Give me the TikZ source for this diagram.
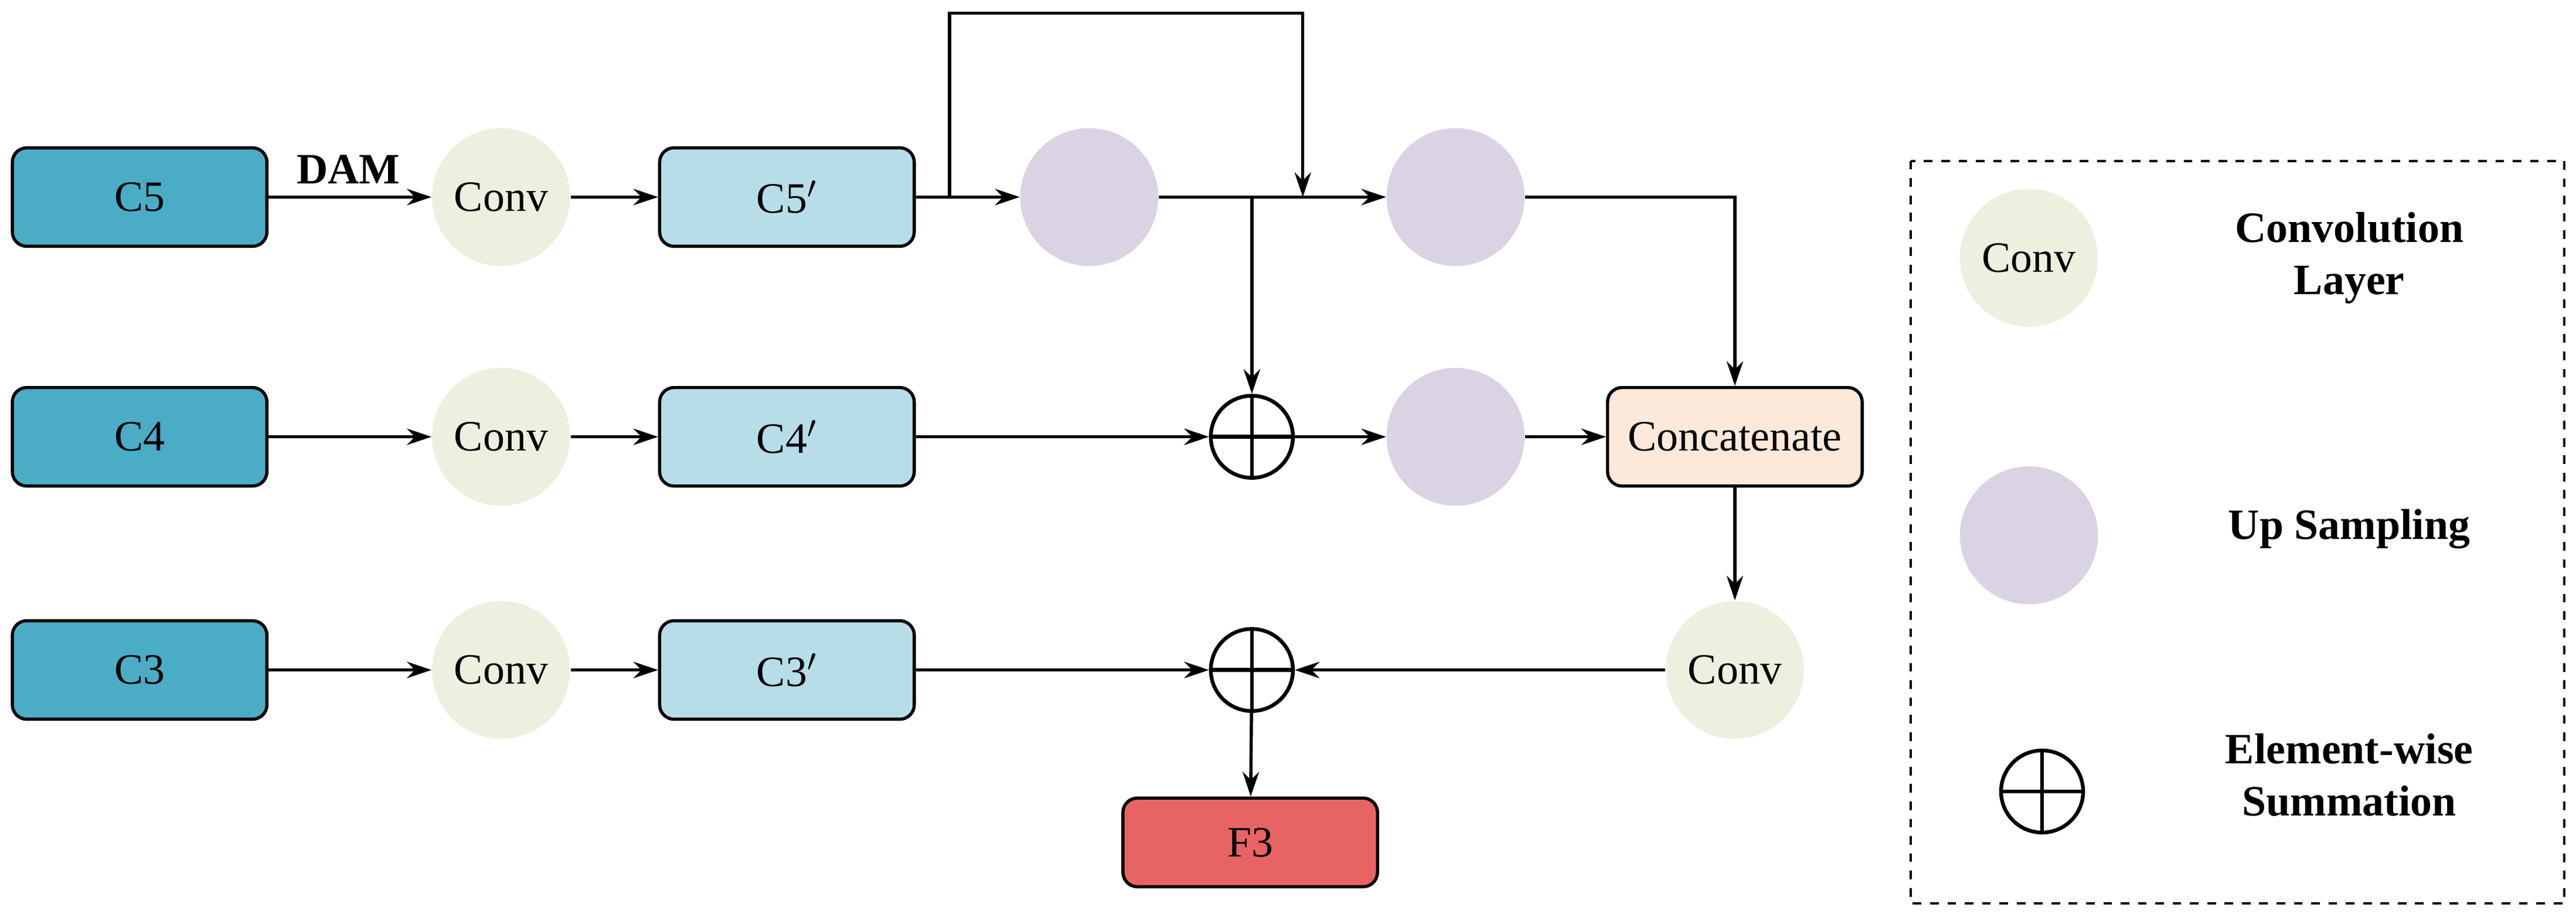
\documentclass[tikz,border=0pt]{standalone}
\usepackage{fontspec}
\setmainfont{Liberation Serif}
\usetikzlibrary{arrows.meta,calc}
\definecolor{cdark}{HTML}{4BACC6}
\definecolor{clight}{HTML}{B7DDE8}
\definecolor{cconv}{HTML}{EBF1DE}
\definecolor{cup}{HTML}{D9D3E3}
\definecolor{ccat}{HTML}{FCE9DA}
\definecolor{cred}{HTML}{E86464}
\tikzset{
  every node/.style={font=\fontsize{15}{18}\selectfont,align=center},
  feat/.style={draw,line width=1.1pt,rounded corners=5pt,minimum width=3.1cm,minimum height=1.2cm},
  inp/.style={feat,fill=cdark},
  outp/.style={feat,fill=clight},
  conv/.style={circle,fill=cconv,minimum size=1.68cm,inner sep=0pt},
  up/.style={circle,fill=cup,minimum size=1.68cm},
  plus/.style={circle,draw,line width=1.3pt,minimum size=1cm,inner sep=0pt,path picture={
    \draw[line width=1.3pt] (path picture bounding box.north)--(path picture bounding box.south)
      (path picture bounding box.west)--(path picture bounding box.east);}},
  arr/.style={-{Stealth[length=3mm,width=2mm]},line width=1.1pt},
  lbl/.style={font=\bfseries\fontsize{15}{18}\selectfont}
}
\begin{document}
\begin{tikzpicture}[x=0.02cm,y=-0.02cm]
\useasboundingbox (0,0) rectangle (1568,559);
% inputs
\node[inp] (c5) at (85,120) {C5};
\node[inp] (c4) at (85,266) {C4};
\node[inp] (c3) at (85,408) {C3};
\node[conv] (v5) at (305,120) {Conv};
\node[conv] (v4) at (305,266) {Conv};
\node[conv] (v3) at (305,408) {Conv};
\node[outp] (p5) at (479,120) {C5$'$};
\node[outp] (p4) at (479,266) {C4$'$};
\node[outp] (p3) at (479,408) {C3$'$};
\node[up] (u1) at (663,120) {};
\node[up] (u2) at (886,120) {};
\node[up] (u3) at (886,266) {};
\node[plus] (s1) at (762,266) {};
\node[plus] (s2) at (762,408) {};
\node[feat,fill=ccat] (cat) at (1056,266) {Concatenate};
\node[conv] (vr) at (1056,408) {Conv};
\node[feat,fill=cred,minimum height=1.08cm] (f3) at (761,513) {F3};
\node[lbl] at (212,103) {DAM};
% connectors
\draw[arr] (c5) -- (v5);
\draw[arr] (c4) -- (v4);
\draw[arr] (c3) -- (v3);
\draw[arr] (v5) -- (p5);
\draw[arr] (v4) -- (p4);
\draw[arr] (v3) -- (p3);
\draw[arr] (p5) -- (u1);
\coordinate (b1) at (578,120);
\coordinate (b2) at (793,120);
\draw[arr] (b1) -- (578,8) -- (793,8) -- (b2);
\draw[arr] (u1) -- (u2);
\draw[arr] (762,120) -- (s1);
\draw[arr] (p4) -- (s1);
\draw[arr] (s1) -- (u3);
\draw[arr] (u3) -- (cat);
\draw[arr] (u2) -| (cat);
\draw[arr] (cat) -- (vr);
\draw[arr] (vr) -- (s2);
\draw[arr] (p3) -- (s2);
\draw[arr] (s2) -- (f3);
% legend
\draw[dashed,line width=0.8pt] (1163,98) rectangle (1561,550);
\node[conv] (lc) at (1235,157) {Conv};
\node[lbl] at (1430,157) {Convolution\\Layer};
\node[up] (lu) at (1235,326) {};
\node[lbl] at (1430,322) {Up Sampling};
\node[plus] (ls) at (1243,482) {};
\node[lbl] at (1430,472) {Element-wise\\Summation};
\end{tikzpicture}
\end{document}
